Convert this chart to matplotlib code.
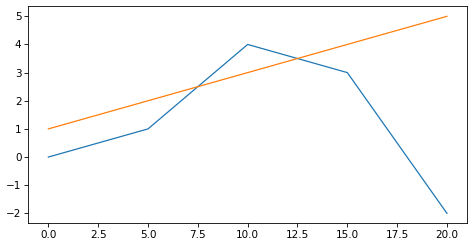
import matplotlib
matplotlib.use("Agg")
import matplotlib.pyplot as plt

x = [0, 5, 10, 15, 20]
seriesA = [0, 1, 4, 3, -2]
seriesB = [1, 2, 3, 4, 5]

fig = plt.figure(figsize=(4.74, 2.48), dpi=100)
ax = fig.add_axes([0.06, 0.10, 0.925, 0.874])
ax.plot(x, seriesA, linewidth=0.9)
ax.plot(x, seriesB, linewidth=0.9)
ax.tick_params(labelsize=7.5, length=3, width=0.6, pad=2)
for spine in ax.spines.values():
    spine.set_linewidth(0.6)
ax.set_xticks([0, 2.5, 5, 7.5, 10, 12.5, 15, 17.5, 20])
fig.savefig("out.png", dpi=100)
